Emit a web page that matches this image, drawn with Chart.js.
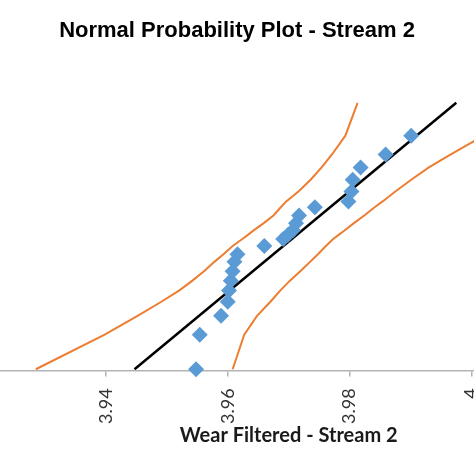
<!DOCTYPE html>
<html>
<head>
<meta charset="utf-8">
<title>Normal Probability Plot - Stream 2</title>
<script src="https://cdn.jsdelivr.net/npm/chart.js@4.4.1/dist/chart.umd.min.js"></script>
<style>
    html, body { margin: 0; padding: 0; background: #ffffff; overflow: hidden; }
    /* the picture is a crop of a wider chart: the plot runs past both edges */
    #wrap { position: absolute; left: -28px; top: 0; width: 655px; height: 474px; }
</style>
</head>
<body>
<div id="wrap"><canvas id="npp-stream-2"></canvas></div>
<script>
const wear = [
    3.9548, 3.9554, 3.9589, 3.9600, 3.9602, 3.9605, 3.9608, 3.9611,
    3.9616, 3.9660, 3.9691, 3.9699, 3.9707, 3.9712, 3.9717, 3.9743,
    3.9798, 3.9803, 3.9805, 3.9818, 3.9859, 3.9901,
];
const scores = [
    -1.98, -1.39, -1.07, -0.83, -0.64, -0.47, -0.31, -0.15,
    -0.02, 0.12, 0.24, 0.31, 0.39, 0.51, 0.64, 0.78,
    0.88, 1.05, 1.25, 1.46, 1.68, 2.0,
];

// Fitted line
const fitWear = [3.9447, 3.9975];
const fitScores = [-1.98, 2.56];

// Confidence bands, one x per score level
const bandScores = [...scores, 2.56];
const upperWear = [
    3.9285, 3.9398, 3.9452, 3.9491, 3.9520, 3.9542, 3.9561, 3.9578,
    3.9593, 3.9608, 3.9624, 3.9633, 3.9643, 3.9659, 3.9675, 3.9687,
    3.9696, 3.9716, 3.9736, 3.9754, 3.9771, 3.9793, 3.9813,
];
const lowerWear = [
    3.9608, 3.9627, 3.9648, 3.9670, 3.9686, 3.9702, 3.9719, 3.9735,
    3.9748, 3.9761, 3.9773, 3.9782, 3.9792, 3.9807, 3.9824, 3.9841,
    3.9854, 3.9875, 3.9901, 3.9930, 3.9966, 4.0020, 4.0135,
];

const xTicks = [3.92, 3.94, 3.96, 3.98, 4.0, 4.02];

const pairs = (xs, ys) => xs.map((x, i) => ({ x, y: ys[i] }));

const axisGray = "#b3b3b3";

// Chart title is centred on the visible crop, not on the plot area
const cropTitle = {
    id: "cropTitle",
    afterDraw(c, args, opts) {
        const { ctx } = c;
        ctx.save();
        ctx.font = opts.font;
        ctx.fillStyle = opts.color;
        ctx.textAlign = "center";
        ctx.textBaseline = "alphabetic";
        ctx.fillText(opts.text, opts.x, opts.y);
        ctx.restore();
    },
};

const ctx = document.getElementById("npp-stream-2");

// eslint-disable-next-line no-unused-vars
const chart = new Chart(ctx, {
    type: "scatter",
    data: {
        datasets: [
            {
                label: "Wear Filtered - Stream 2",
                data: pairs(wear, scores),
                pointStyle: "rectRot",
                pointRadius: 8,
                pointBackgroundColor: "#5b9bd5",
                pointBorderColor: "#5b9bd5",
                pointBorderWidth: 0,
                clip: false,
            },
            {
                label: "Fit",
                data: pairs(fitWear, fitScores),
                showLine: true,
                pointRadius: 0,
                borderColor: "#000000",
                borderWidth: 2.5,
            },
            {
                label: "Upper",
                data: pairs(upperWear, bandScores),
                showLine: true,
                pointRadius: 0,
                borderColor: "#ed7d31",
                borderWidth: 2,
            },
            {
                label: "Lower",
                data: pairs(lowerWear, bandScores),
                showLine: true,
                pointRadius: 0,
                borderColor: "#ed7d31",
                borderWidth: 2,
            },
        ],
    },
    options: {
        responsive: true,
        maintainAspectRatio: false,
        animation: false,
        events: [],
        layout: {
            padding: { top: 77, right: 25, bottom: 26, left: 0 },
        },
        scales: {
            x: {
                type: "linear",
                min: 3.92,
                max: 4.02,
                afterBuildTicks(scale) {
                    scale.ticks = xTicks.map((value) => ({ value }));
                },
                border: { color: axisGray, width: 1.5 },
                grid: {
                    drawOnChartArea: false,
                    drawTicks: true,
                    tickLength: 6,
                    color: axisGray,
                    lineWidth: 1.5,
                },
                ticks: {
                    minRotation: 90,
                    maxRotation: 90,
                    padding: 12,
                    color: "#333333",
                    font: { family: "Lato", size: 18 },
                    callback: (v) => String(+Number(v).toFixed(2)),
                },
                title: {
                    display: true,
                    text: "Wear Filtered - Stream 2",
                    color: "#1a1a1a",
                    font: { family: "Lato", size: 20, weight: "bold" },
                    padding: { top: -12, bottom: 0 },
                },
            },
            y: {
                display: false,
                min: -2,
                max: 3,
            },
        },
        plugins: {
            legend: { display: false },
            tooltip: { enabled: false },
            cropTitle: {
                text: "Normal Probability Plot - Stream 2",
                font: "bold 22px 'Liberation Sans', Arial, sans-serif",
                color: "#000000",
                x: 265,
                y: 37,
            },
        },
    },
    plugins: [cropTitle],
});
</script>
</body>
</html>
